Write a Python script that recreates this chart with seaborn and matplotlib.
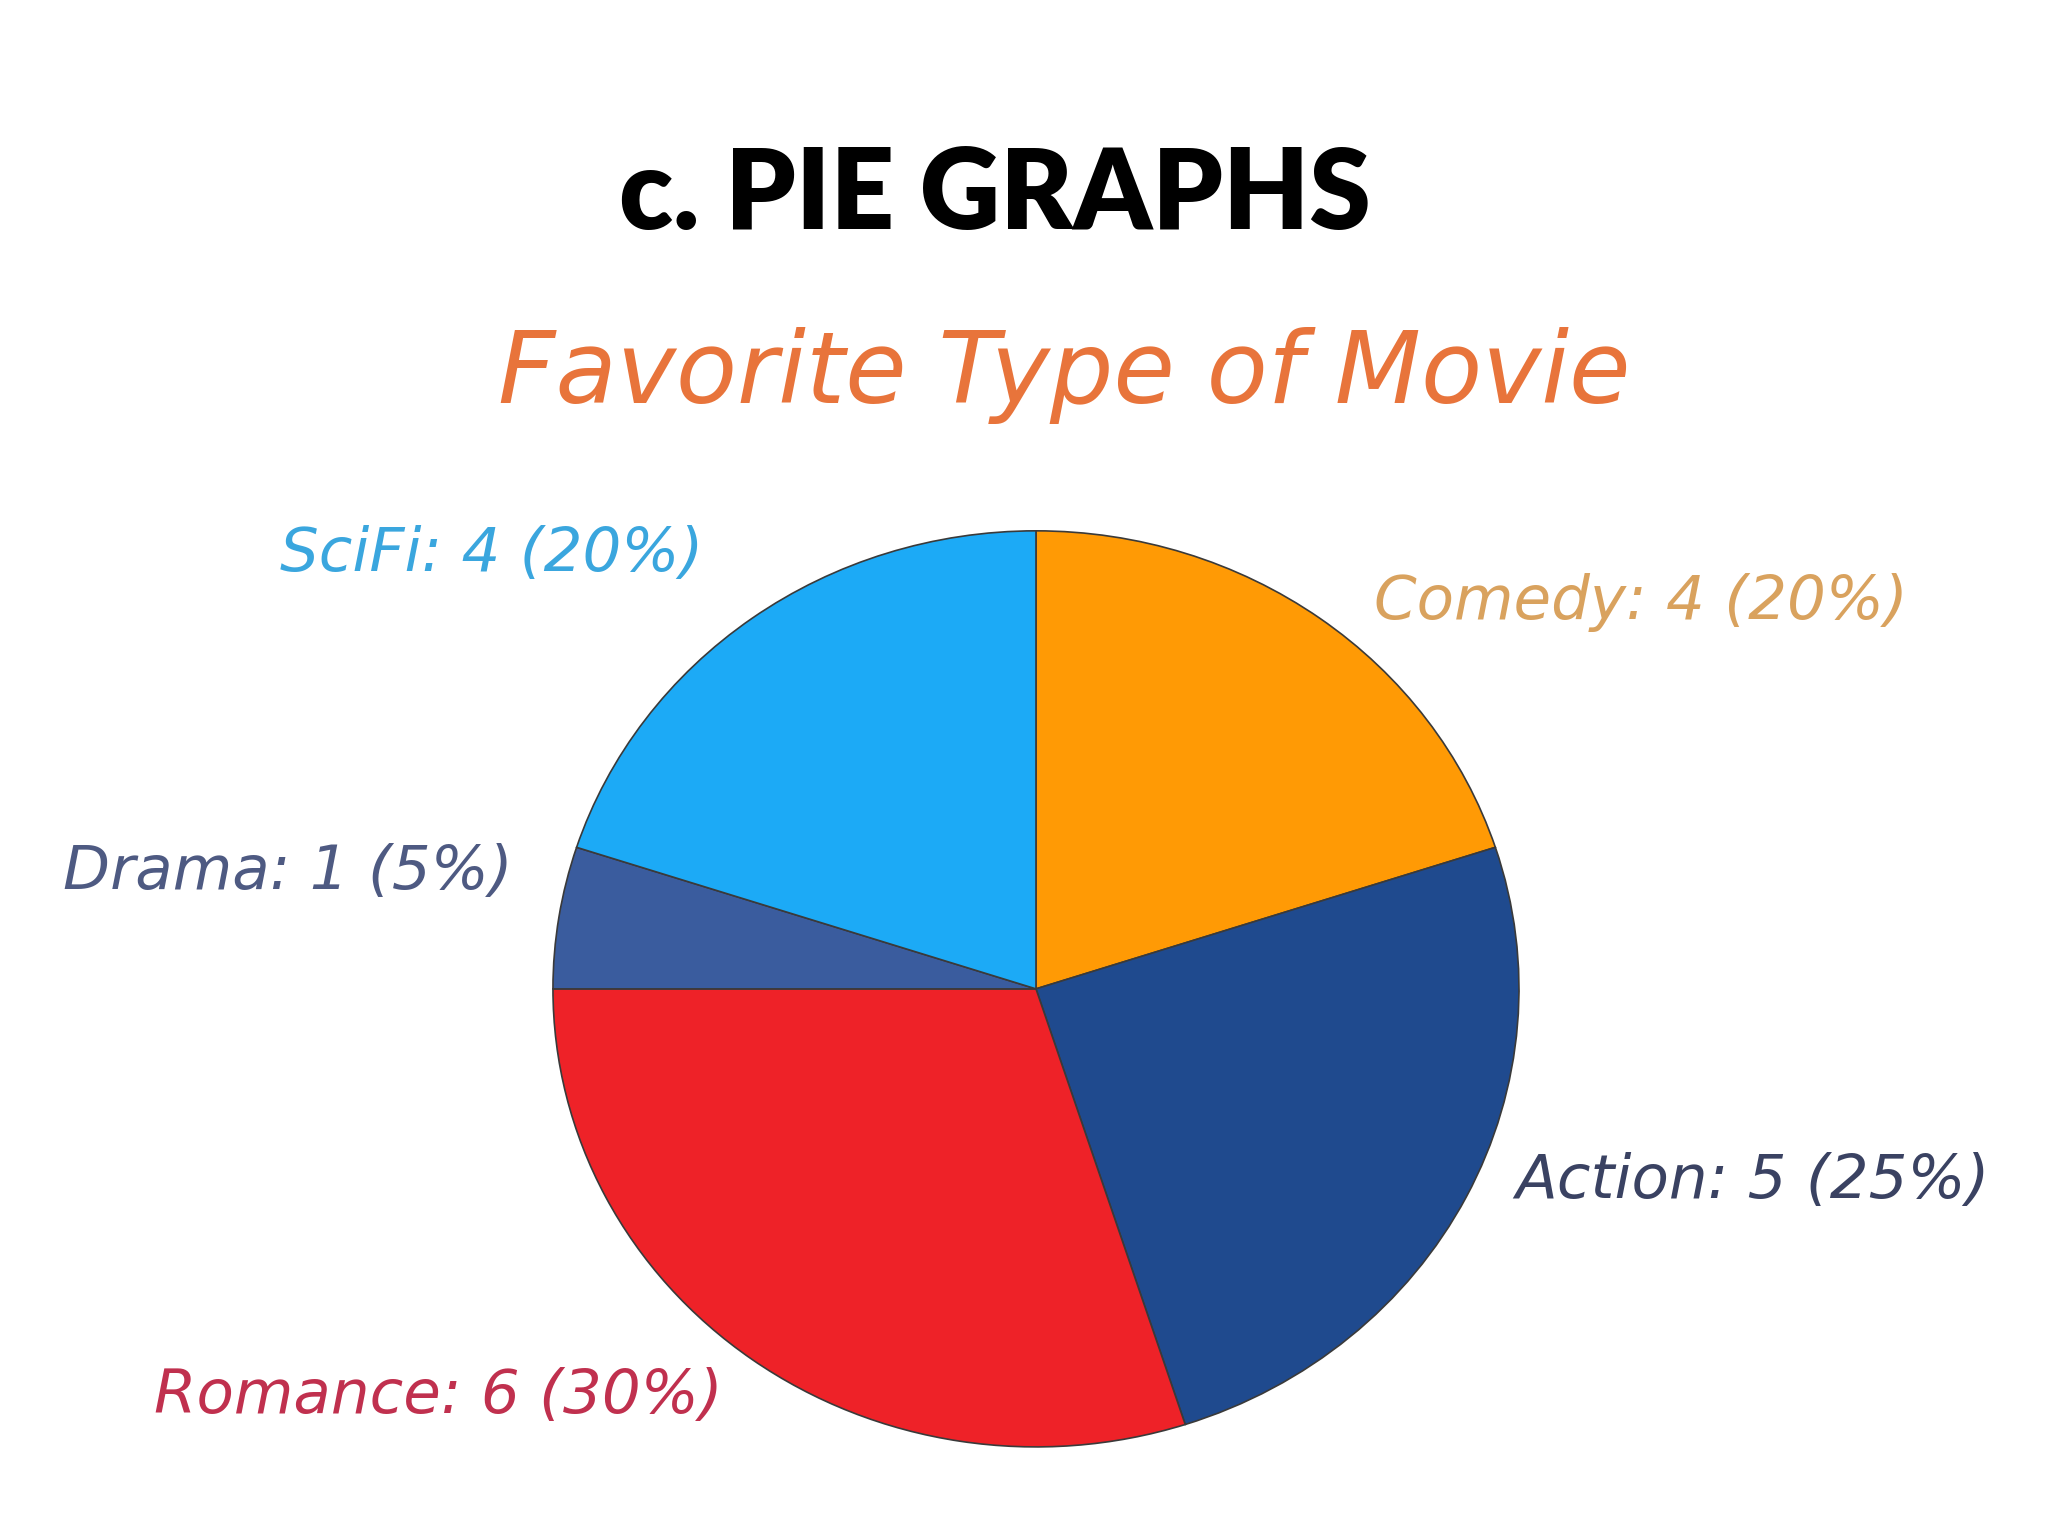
import numpy as np
import matplotlib
matplotlib.use("Agg")
import matplotlib.pyplot as plt
import seaborn as sns

# data
genres = ["Comedy", "Action", "Romance", "Drama", "SciFi"]
votes = [4, 5, 6, 1, 4]
slice_colors = ["#FF9A05", "#1F4A8E", "#EE2228", "#3A5C9E", "#1CAAF6"]
label_colors = ["#D9A25E", "#3A4262", "#C0304E", "#4E5A82", "#3AA6DE"]
# where each label sits (axes data units, pie radius = 1)
label_pos = [(1.253, 0.843), (1.484, -0.421), (-1.238, -0.891),
             (-1.549, 0.255), (-1.126, 0.948)]

sns.set_theme(style="white")
plt.rcParams['font.family'] = ['DejaVu Sans']

fig = plt.figure(figsize=(20.48, 15.36), dpi=100)
fig.patch.set_facecolor("white")

fig.text(995 / 2048, 1 - 196 / 1536, "c. PIE GRAPHS", ha="center", va="center",
         fontsize=80, fontweight="heavy", family=["Lato", "DejaVu Sans"], color="black")
fig.text(1064 / 2048, 1 - 375 / 1536, "Favorite Type of Movie", ha="center", va="center",
         fontsize=72, style="italic", color="#E8743B", family=["DejaVu Sans"])

ax = fig.add_axes([0.270, 0.058, 0.4717, 0.5964])
total = sum(votes)
wedges, texts = ax.pie(votes, colors=slice_colors, startangle=90, counterclock=False,
                       labels=[f"{g}: {v} ({v / total:.0%})" for g, v in zip(genres, votes)],
                       wedgeprops=dict(edgecolor="#3a3a3a", linewidth=1.2),
                       textprops=dict(fontsize=44, style="italic"))
for t, c, p in zip(texts, label_colors, label_pos):
    t.set_position(p)
    t.set_color(c)
    t.set_ha("center")
    t.set_va("center")
ax.set_aspect("auto")
ax.set_xlim(-1, 1)
ax.set_ylim(-1, 1)
ax.axis("off")

fig.savefig("out.png", dpi=100, facecolor="white")
